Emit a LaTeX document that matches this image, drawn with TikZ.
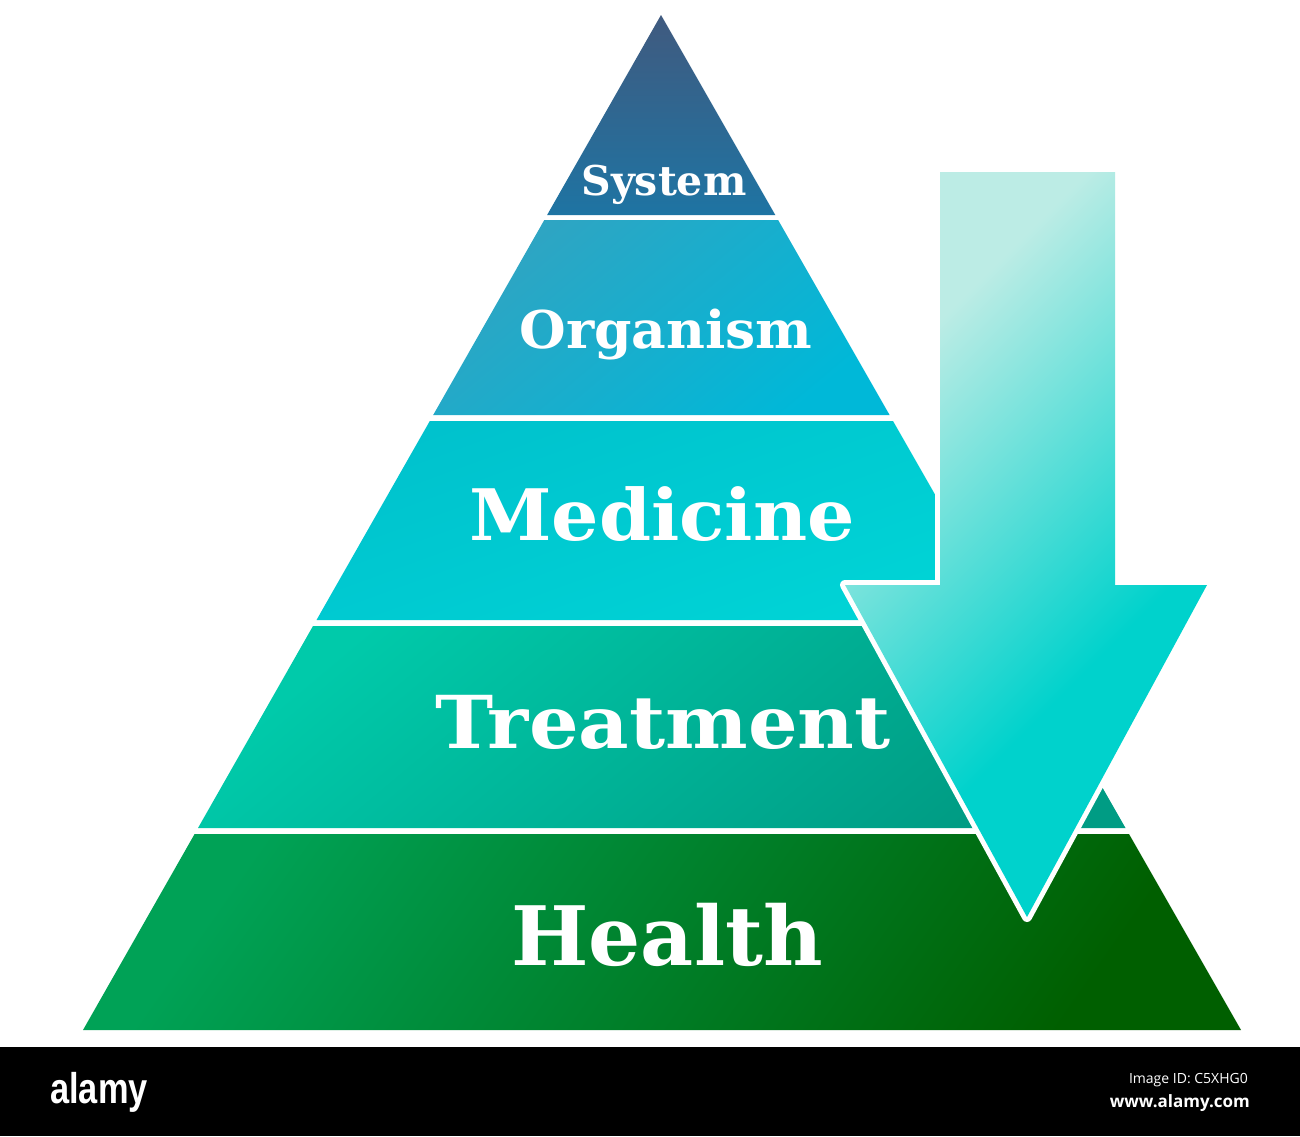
\documentclass[tikz,border=0pt]{standalone}
\usepackage{fontspec}
\setmainfont{DejaVu Serif}
\newfontfamily\barfont{Liberation Sans}
\newfontfamily\webfont{Open Sans}
\usetikzlibrary{calc}
\definecolor{sysA}{HTML}{405A7F}
\definecolor{sysB}{HTML}{1E74A3}
\definecolor{orgA}{HTML}{30A4C2}
\definecolor{orgB}{HTML}{00B8D8}
\definecolor{medA}{HTML}{00C2CD}
\definecolor{medB}{HTML}{00D4D6}
\definecolor{treA}{HTML}{00CAAA}
\definecolor{treB}{HTML}{009C84}
\definecolor{heaA}{HTML}{00A256}
\definecolor{heaB}{HTML}{005F00}
\definecolor{arrowlight}{HTML}{BCECE5}
\definecolor{arrowteal}{HTML}{00D2CC}
\pgfdeclarehorizontalshading{arrowshade}{100bp}{color(0bp)=(arrowlight); color(30bp)=(arrowlight); color(62bp)=(arrowteal); color(100bp)=(arrowteal)}
\tikzset{
  layer/.style={draw=none},
  lab/.style={text=white, anchor=base, inner sep=0pt, font=\bfseries},
  arrowedge/.style={draw=white, line width=10pt, line join=round},
  arrowfill/.style={shading=arrowshade, shading angle=-45},
  bartext/.style={text=white, inner sep=0pt}
}
\newcommand\fsz[1]{\fontsize{#1}{#1}\selectfont}
\begin{document}
\begin{tikzpicture}[x=1pt,y=-1pt]
\useasboundingbox (0,0) rectangle (1300,1136);
\fill[white] (0,0) rectangle (1300,1136);
% layers
\shade[layer, top color=sysA, bottom color=sysB, shading angle=0] (661,15) -- (775.3,215) -- (547.1,215) -- cycle;
\shade[layer, top color=orgA, bottom color=orgB, shading angle=40] (544.3,220) -- (778.1,220) -- (889.6,415) -- (433.2,415) -- cycle;
\shade[layer, top color=medA, bottom color=medB, shading angle=20] (429.8,421) -- (893.0,421) -- (1006.7,620) -- (316.5,620) -- cycle;
\shade[layer, top color=treA, bottom color=treB, shading angle=40] (313.0,626) -- (1010.1,626) -- (1125.5,828) -- (198.0,828) -- cycle;
\shade[layer, top color=heaA, bottom color=heaB, shading angle=55] (194.6,834) -- (1129.0,834) -- (1241,1030) -- (83,1030) -- cycle;
% arrow
\draw[arrowedge] (940,172) -- (1115,172) -- (1115,585) -- (1207,585) -- (1027,917) -- (845,585) -- (940,585) -- cycle;
\shade[arrowfill] (940,172) -- (1115,172) -- (1115,585) -- (1207,585) -- (1027,917) -- (845,585) -- (940,585) -- cycle;
% labels
\node[lab] (system) at (664,195) {\fsz{41}System};
\node[lab] (organism) at (666,348) {\scalebox{1.03}[1]{\fsz{52}Organism}};
\node[lab] (medicine) at (662,540) {\scalebox{1.05}[1]{\fsz{71}Medicine}};
\node[lab] (treatment) at (663,748) {\scalebox{1.07}[1]{\fsz{73}Treatment}};
\node[lab] (health) at (667,965) {\fsz{82}Health};
% bottom bar
\fill[black] (0,1047) rectangle (1300,1136);
\node[bartext, anchor=base west] (alamylogo) at (50,1103) {\scalebox{0.8}[1]{\barfont\fsz{43}\bfseries alamy}};
\node[bartext, anchor=base east] (imageid) at (1248,1083) {\webfont\fsz{14}Image ID: C5XHG0};
\node[bartext, anchor=base east] (website) at (1250,1107) {\webfont\fsz{17}\bfseries www.alamy.com};
\end{tikzpicture}
\end{document}
